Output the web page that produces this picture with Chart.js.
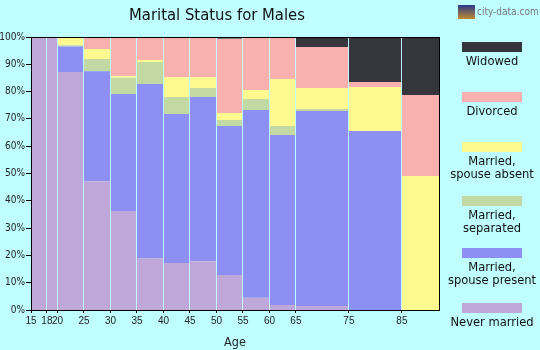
<!DOCTYPE html>
<html>
<head>
<meta charset="utf-8">
<script src="https://cdn.jsdelivr.net/npm/chart.js@4.4.0/dist/chart.umd.min.js"></script>
<style>
	html, body { margin: 0; padding: 0; background: #c0ffff; }
	#wrap { width: 540px; height: 350px; position: relative; }
</style>
</head>
<body>
<div id="wrap"><canvas id="myChart" width="540" height="350"></canvas></div>
<script>
// age group edges (last one is the right end of the 85+ group)
const edges = [15, 18, 20, 25, 30, 35, 40, 45, 50, 55, 60, 65, 75, 85, 92];
const tickAges = [15, 18, 20, 25, 30, 35, 40, 45, 50, 55, 60, 65, 75, 85];
const yTicks = [0, 10, 20, 30, 40, 50, 60, 70, 80, 90, 100];

// percent of males in each age group
const neverMarried = [100, 100, 87.2, 47.2, 36.3, 19.0, 17.2, 17.9, 12.8, 4.5, 1.8, 1.5, 0, 0];
const spousePresent = [0, 0, 9.3, 40.3, 42.8, 63.8, 54.6, 60.1, 54.6, 68.8, 62.3, 71.4, 65.6, 0];
const separated = [0, 0, 0.5, 4.4, 6.0, 8.0, 6.2, 3.3, 2.2, 4.0, 3.3, 0.7, 0, 0];
const spouseAbsent = [0, 0, 3.0, 3.7, 0.6, 0.8, 7.3, 4.0, 2.6, 3.3, 17.2, 7.7, 16.1, 49.1];
const divorced = [0, 0, 0, 4.4, 14.3, 8.4, 14.7, 14.7, 27.2, 19.4, 15.4, 15.0, 1.8, 29.7];
const widowed = [0, 0, 0, 0, 0, 0, 0, 0, 0.6, 0, 0, 3.7, 16.5, 21.2];

// bottom to top
const series = [
	{ label: ["Never married"], values: neverMarried, color: "#bfa8d9" },
	{ label: ["Married,", "spouse present"], values: spousePresent, color: "#8e8ff2" },
	{ label: ["Married,", "separated"], values: separated, color: "#c3d9a4" },
	{ label: ["Married,", "spouse absent"], values: spouseAbsent, color: "#fff98f" },
	{ label: ["Divorced"], values: divorced, color: "#f9b1b0" },
	{ label: ["Widowed"], values: widowed, color: "#35363b" },
];

// legend box tops, top to bottom
const legendTops = [42, 92, 142, 196, 248, 303];

const xEnd = edges[edges.length - 1];

function cumulative(upTo) {
	return edges.map((x, i) => {
		const idx = Math.min(i, edges.length - 2);
		let sum = 0;
		for (let k = 0; k <= upTo; k++) sum += series[k].values[idx];
		return { x: x, y: Math.min(sum, 100) };
	});
}

const datasets = series.map((s, k) => ({
	label: s.label.join(" "),
	data: cumulative(k),
	stepped: true,
	borderWidth: 0,
	borderColor: s.color,
	backgroundColor: s.color,
	pointRadius: 0,
	fill: k === 0 ? "origin" : "-1",
}));

const decorations = {
	id: "decorations",
	afterDraw(chart) {
		const ctx = chart.ctx;
		ctx.save();
		// title
		ctx.fillStyle = "#111";
		ctx.font = "16.5px 'DejaVu Sans Condensed', 'DejaVu Sans', sans-serif";
		ctx.textAlign = "center";
		ctx.textBaseline = "alphabetic";
		ctx.fillText("Marital Status for Males", 217, 20);

		// logo
		const g = ctx.createLinearGradient(0, 5, 0, 19);
		g.addColorStop(0, "#2a3a8a");
		g.addColorStop(1, "#c08a30");
		ctx.fillStyle = g;
		ctx.fillRect(458, 5, 17, 14);
		ctx.fillStyle = "#777";
		ctx.font = "10px 'DejaVu Sans Condensed', sans-serif";
		ctx.textAlign = "left";
		ctx.textBaseline = "middle";
		ctx.fillText("city-data.com", 477, 12);

		// legend
		ctx.textAlign = "center";
		ctx.font = "12.8px 'DejaVu Sans Condensed', 'DejaVu Sans', sans-serif";
		const ordered = series.slice().reverse();
		ordered.forEach((s, i) => {
			const top = legendTops[i];
			ctx.fillStyle = s.color;
			ctx.fillRect(462, top, 60, 10);
			ctx.fillStyle = "#111";
			s.label.forEach((line, j) => {
				ctx.fillText(line, 492, top + 20 + j * 13);
			});
		});
		ctx.restore();
	},
};

new Chart(document.getElementById("myChart"), {
	type: "line",
	data: { datasets: datasets },
	plugins: [decorations],
	options: {
		responsive: false,
		animation: false,
		layout: { padding: { top: 37, right: 101, left: 0, bottom: 0 } },
		plugins: {
			legend: { display: false },
			tooltip: { enabled: false },
		},
		scales: {
			x: {
				type: "linear",
				position: "bottom",
				min: 15,
				max: xEnd,
				afterFit: (scale) => { scale.height = 40; },
				afterBuildTicks: (scale) => {
					scale.ticks = tickAges.concat([xEnd]).map((v) => ({ value: v }));
				},
				grid: {
					z: 1,
					color: (c) => (c.tick && c.tick.value === xEnd ? "#000" : "#c0ffff"),
					lineWidth: 1,
					tickColor: (c) => (c.tick && c.tick.value === xEnd ? "rgba(0,0,0,0)" : "#000"),
					tickLength: 3,
				},
				border: { color: "#000", width: 1, z: 2 },
				ticks: {
					autoSkip: false,
					maxRotation: 0,
					padding: 2,
					color: "#222",
					font: { family: "'Liberation Sans Narrow', 'Liberation Sans', sans-serif", size: 10 },
					callback: (v) => (v === xEnd ? "" : v),
				},
				title: {
					display: true,
					text: "Age",
					color: "#222",
					padding: { top: 0, bottom: 0 },
					font: { family: "'DejaVu Sans Condensed', 'DejaVu Sans', sans-serif", size: 12.5 },
				},
			},
			y: {
				min: 0,
				max: 100,
				afterFit: (scale) => { scale.width = 31; },
				afterBuildTicks: (scale) => { scale.ticks = yTicks.map((v) => ({ value: v })); },
				grid: {
					z: 1,
					color: (c) => (c.tick && c.tick.value === 100 ? "#000" : "rgba(0,0,0,0)"),
					tickColor: "#000",
					tickLength: 5,
				},
				border: { color: "#000", width: 1, z: 2 },
				ticks: {
					padding: 1,
					color: "#222",
					font: { family: "'DejaVu Sans Condensed', 'DejaVu Sans', sans-serif", size: 10 },
					callback: (v) => v + "%",
				},
			},
		},
	},
});
</script>
</body>
</html>
